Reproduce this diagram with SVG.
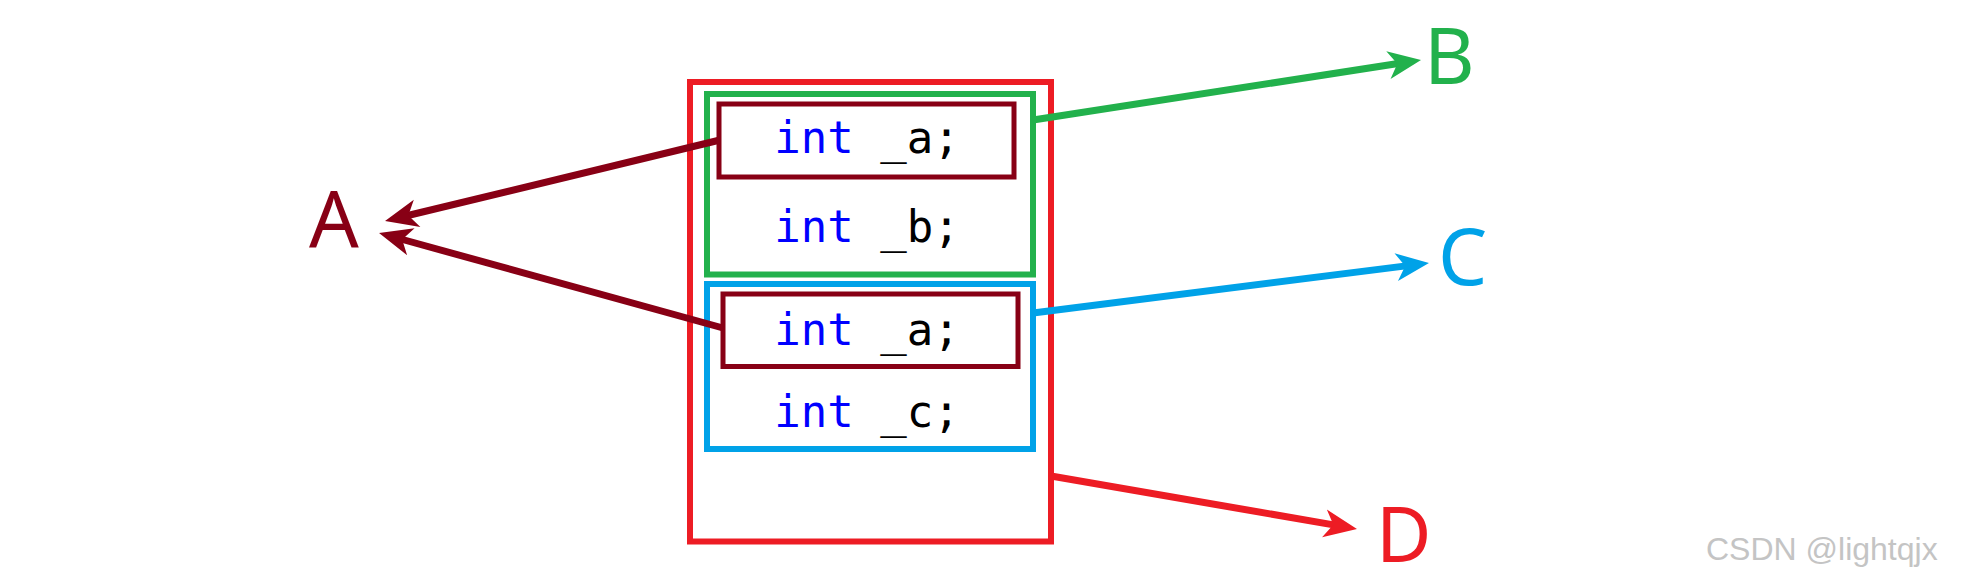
<svg xmlns="http://www.w3.org/2000/svg" width="1967" height="583" viewBox="0 0 1967 583">
<style>
.box{fill:none}
.code{font-family:"DejaVu Sans Mono","Liberation Mono",monospace;font-size:44px;text-anchor:middle}
.kw{fill:#0000FF}
.id{fill:#000000}
.lbl{font-family:"Noto Sans","Open Sans",sans-serif;font-size:78px}
.con{fill:none;stroke-width:7}
.wm{font-family:"Liberation Sans",Arial,sans-serif;font-size:32px;fill:#c4c4c4}
</style>
<defs>
<marker id="ahDR" markerUnits="userSpaceOnUse" viewBox="-35 -16 52 32" markerWidth="52" markerHeight="32" refX="-15" refY="0" orient="auto"><path d="M0,0 L-33,-14 L-24,0 L-33,14 Z" fill="#880015"/></marker>
<marker id="ahG" markerUnits="userSpaceOnUse" viewBox="-35 -16 52 32" markerWidth="52" markerHeight="32" refX="-15" refY="0" orient="auto"><path d="M0,0 L-33,-14 L-24,0 L-33,14 Z" fill="#22B14C"/></marker>
<marker id="ahB" markerUnits="userSpaceOnUse" viewBox="-35 -16 52 32" markerWidth="52" markerHeight="32" refX="-15" refY="0" orient="auto"><path d="M0,0 L-33,-14 L-24,0 L-33,14 Z" fill="#00A2E8"/></marker>
<marker id="ahR" markerUnits="userSpaceOnUse" viewBox="-35 -16 52 32" markerWidth="52" markerHeight="32" refX="-15" refY="0" orient="auto"><path d="M0,0 L-33,-14 L-24,0 L-33,14 Z" fill="#ED1C24"/></marker>
</defs>
<rect width="1967" height="583" fill="#ffffff"/>
<g id="D-outer"><rect class="box" x="690" y="82" width="361" height="459.5" stroke="#ED1C24" stroke-width="6"/></g>
<g id="B-group"><rect class="box" x="707" y="94" width="326" height="180.5" stroke="#22B14C" stroke-width="6"/></g>
<g id="C-group"><rect class="box" x="707" y="284" width="326" height="165" stroke="#00A2E8" stroke-width="6"/></g>
<g id="a1"><rect class="box" x="719" y="104" width="295" height="73" stroke="#880015" stroke-width="5"/>
<text class="code" x="867" y="153"><tspan class="kw">int</tspan><tspan class="id"> _a;</tspan></text></g>
<g id="b"><text class="code" x="867" y="242"><tspan class="kw">int</tspan><tspan class="id"> _b;</tspan></text></g>
<g id="a2"><rect class="box" x="723" y="294" width="295" height="72.5" stroke="#880015" stroke-width="5"/>
<text class="code" x="867" y="345"><tspan class="kw">int</tspan><tspan class="id"> _a;</tspan></text></g>
<g id="c"><text class="code" x="867" y="427"><tspan class="kw">int</tspan><tspan class="id"> _c;</tspan></text></g>
<g id="connectors">
<line class="con" x1="720" y1="140" x2="399.6" y2="217.5" stroke="#880015" marker-end="url(#ahDR)"/>
<line class="con" x1="723" y1="328" x2="393.5" y2="237" stroke="#880015" marker-end="url(#ahDR)"/>
<line class="con" x1="1033" y1="120" x2="1406.2" y2="62.3" stroke="#22B14C" marker-end="url(#ahG)"/>
<line class="con" x1="1033" y1="313" x2="1414.1" y2="264.9" stroke="#00A2E8" marker-end="url(#ahB)"/>
<line class="con" x1="1051" y1="476" x2="1342.2" y2="526.4" stroke="#ED1C24" marker-end="url(#ahR)"/>
</g>
<g id="A"><text class="lbl" x="309" y="247" fill="#880015">A</text></g>
<g id="B"><text class="lbl" x="1424" y="84" fill="#22B14C">B</text></g>
<g id="C"><text class="lbl" x="1438" y="285" fill="#00A2E8">C</text></g>
<g id="Dl"><text class="lbl" x="1376" y="562" fill="#ED1C24" style="font-size:76px">D</text></g>
<text class="wm" x="1706" y="560">CSDN @lightqjx</text>
</svg>
